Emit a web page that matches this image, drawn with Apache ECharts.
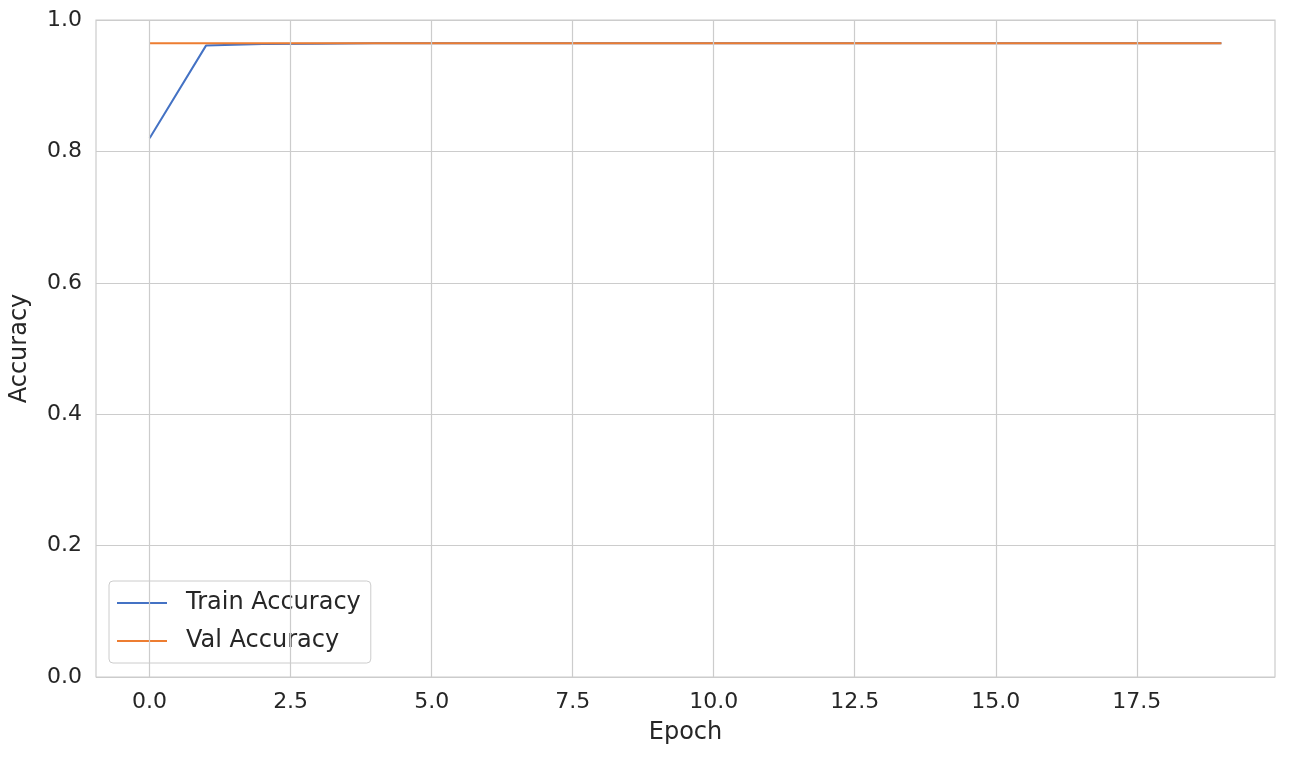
<!DOCTYPE html>
<html><head><meta charset="utf-8">
<script src="https://cdn.jsdelivr.net/npm/echarts@6/dist/echarts.min.js"></script>
<style>html,body{margin:0;padding:0;background:#fff}#c{width:1290px;height:758px}</style>
</head><body><div id="c"></div>
<script>
const epochs = [0,1,2,3,4,5,6,7,8,9,10,11,12,13,14,15,16,17,18,19];
const trainAcc = [0.820,0.961,0.9635,0.964,0.9645,0.9645,0.9645,0.9645,0.9645,0.9645,0.9645,0.9645,0.9645,0.9645,0.9645,0.9645,0.9645,0.9645,0.9645,0.9645];
const valAcc = [0.9647,0.9647,0.9647,0.9647,0.9647,0.9647,0.9647,0.9647,0.9647,0.9647,0.9647,0.9647,0.9647,0.9647,0.9647,0.9647,0.9647,0.9647,0.9647,0.9647];
const xTicks = [0,2.5,5,7.5,10,12.5,15,17.5];
const font = 'DejaVu Sans';
const chart = echarts.init(document.getElementById('c'));
const gridLine = {show:true,lineStyle:{color:'#cccccc',width:1.2}};
chart.setOption({
  animation:false,
  textStyle:{fontFamily:font},
  grid:{left:96,right:15,top:20,bottom:81,show:true,borderColor:'#cccccc',borderWidth:1.2},
  xAxis:{type:'value',min:-0.95,max:19.95,
    name:'Epoch',nameLocation:'middle',nameGap:44,nameTextStyle:{fontSize:24,color:'#262626',fontFamily:font},
    axisLine:{show:false},axisTick:{show:false},splitLine:{show:false},
    axisLabel:{fontSize:22,color:'#262626',margin:14,
      customValues:xTicks,formatter:v=>v.toFixed(1)}},
  yAxis:{type:'value',min:0,max:1,interval:0.2,
    name:'Accuracy',nameLocation:'middle',nameGap:64,nameTextStyle:{fontSize:24,color:'#262626',fontFamily:font},
    axisLine:{show:false},axisTick:{show:false},splitLine:gridLine,
    axisLabel:{fontSize:22,color:'#262626',margin:14,formatter:v=>v.toFixed(1)}},
  legend:{left:109,top:581,orient:'vertical',itemWidth:50,itemHeight:2,itemGap:14,
    padding:[10,10,10,8],backgroundColor:'rgba(255,255,255,0.8)',borderColor:'#cccccc',borderWidth:1,borderRadius:4,
    textStyle:{fontSize:24,color:'#262626',fontFamily:font,padding:[0,0,0,14]},icon:'rect',
    data:['Train Accuracy','Val Accuracy']},
  series:[
    {name:'grid',type:'line',data:[],silent:true,
      markLine:{silent:true,symbol:'none',label:{show:false},lineStyle:{color:'#cccccc',width:1.2,type:'solid'},
        data:xTicks.map(v=>({xAxis:v}))}},
    {name:'Train Accuracy',type:'line',showSymbol:false,symbol:'none',lineStyle:{color:'#4472c4',width:2},itemStyle:{color:'#4472c4'},
      data:epochs.map((e,i)=>[e,trainAcc[i]])},
    {name:'Val Accuracy',type:'line',showSymbol:false,symbol:'none',lineStyle:{color:'#ed7d31',width:2},itemStyle:{color:'#ed7d31'},
      data:epochs.map((e,i)=>[e,valAcc[i]])}
  ]
});
</script></body></html>
